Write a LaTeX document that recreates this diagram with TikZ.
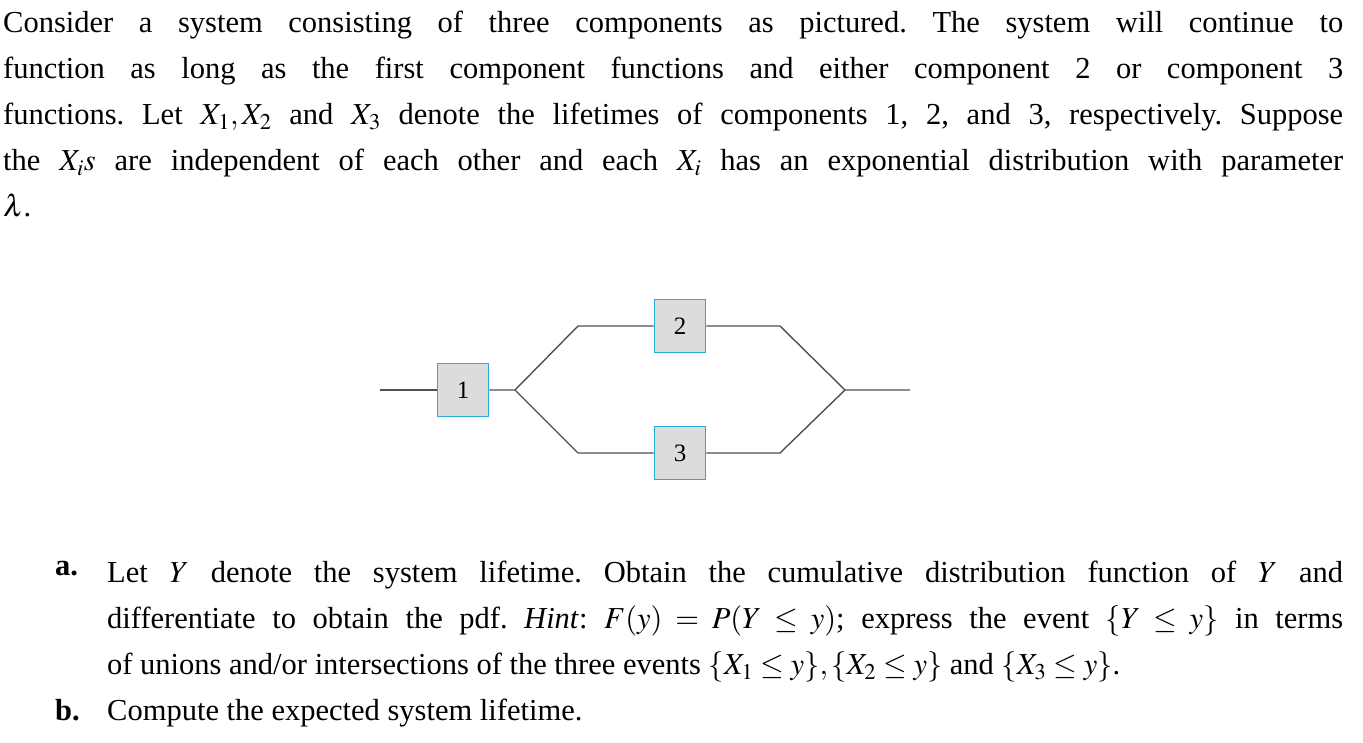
\documentclass[tikz,border=0pt]{standalone}
\usepackage{mathptmx}
\usepackage{fontspec}
\setmainfont{Liberation Serif}
\frenchspacing
\begin{document}
\begin{tikzpicture}[x=1pt,y=-1pt,
  comp/.style={draw={rgb,255:red,40;green,170;blue,220},fill={rgb,255:red,220;green,220;blue,220},line width=1.6pt,minimum width=51pt,minimum height=53pt,inner sep=0pt,font=\fontsize{25}{28}\selectfont},
  wire/.style={draw={rgb,255:red,80;green,80;blue,80},line width=1.4pt},
  para/.style={anchor=north west,inner sep=0pt,align=justify,font=\fontsize{30.5}{46}\selectfont}]
\useasboundingbox (0,0) rectangle (1363,743);
\node[para,text width=1340pt] (intro) at (3,11) {Consider a system consisting of three components as pictured. The system will continue to\linebreak
function as long as the first component functions and either component 2 or component 3\linebreak
functions. Let $X_1, X_2$ and $X_3$ denote the lifetimes of components 1, 2, and 3, respectively. Suppose\linebreak
the $X_i s$ are independent of each other and each $X_i$ has an exponential distribution with parameter\linebreak
$\lambda$.};
\node[comp] (c1) at (463,390) {1};
\node[comp] (c2) at (680,326) {2};
\node[comp] (c3) at (680,453) {3};
\coordinate (in) at (380,390);
\coordinate (sp) at (515,390);
\coordinate (u1) at (578,326);
\coordinate (u2) at (780,326);
\coordinate (l1) at (578,453);
\coordinate (l2) at (780,453);
\coordinate (jn) at (845,390);
\coordinate (out) at (910,390);
\draw[wire] (in) -- (c1.west);
\draw[wire] (c1.east) -- (sp) -- (u1) -- (c2.west);
\draw[wire] (sp) -- (l1) -- (c3.west);
\draw[wire] (c2.east) -- (u2) -- (jn) -- (out);
\draw[wire] (c3.east) -- (l2) -- (jn);
\node[para,font=\fontsize{30.5}{46}\selectfont\bfseries] (la) at (55,561) {a.};
\node[para,text width=1236pt] (pa) at (107,561) {Let $Y$ denote the system lifetime. Obtain the cumulative distribution function of $Y$ and\linebreak
differentiate to obtain the pdf. \textit{Hint}: $F(y)=P(Y\le y)$; express the event $\{Y\le y\}$ in terms\linebreak
of unions and/or intersections of the three events $\{X_1\le y\}, \{X_2\le y\}$ and $\{X_3\le y\}$.};
\node[para,font=\fontsize{30.5}{46}\selectfont\bfseries] (lb) at (55,699) {b.};
\node[para] (pb) at (107,699) {Compute the expected system lifetime.};
\end{tikzpicture}
\end{document}
